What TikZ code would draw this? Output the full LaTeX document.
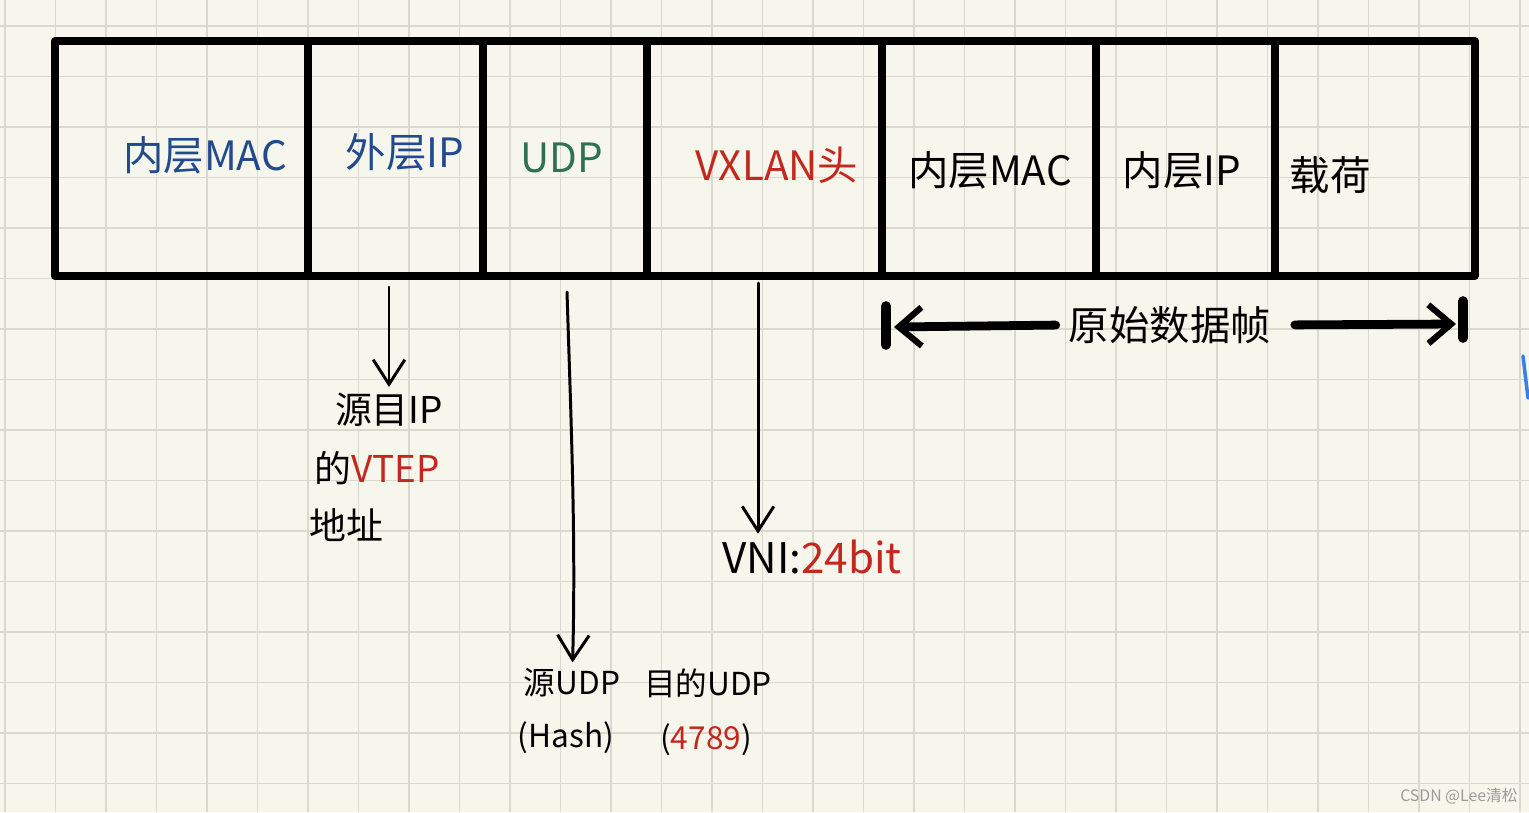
\documentclass[tikz,border=0pt]{standalone}
\usepackage{fontspec}
\setmainfont{Noto Sans CJK SC}
\usepackage{tikz}
\usetikzlibrary{arrows.meta,positioning,calc}
\usepackage{xcolor}
\definecolor{VxBlue}{HTML}{224A8E}
\definecolor{VxGreen}{HTML}{2E7251}
\definecolor{VxRed}{HTML}{C3281E}
\definecolor{VxPaper}{HTML}{F6F6EC}
\definecolor{VxGrid}{HTML}{D9D9CF}
\definecolor{VxMark}{HTML}{9A9A9A}
\definecolor{VxSky}{HTML}{3C7FE6}

\begin{document}
\begin{tikzpicture}[x=0.02cm, y=-0.02cm, font=\fontsize{23}{27}\selectfont, node distance=0pt,
    gridline/.style={VxGrid, line width=0.8pt},
    cell/.style={draw, line width=4.5pt, line join=round, outer sep=0pt, inner sep=0pt, minimum height=4.7cm},
    note/.style={font=\fontsize{21}{24}\selectfont},
    small note/.style={font=\fontsize{18}{21}\selectfont},
    thinarrow/.style={line width=1.7pt, line cap=round, -{Straight Barb[length=14pt,width=18pt]}},
    widearrow/.style={line width=5pt, line cap=round, -{Straight Barb[length=13pt,width=22pt,line width=3.5pt]}},
    endbar/.style={line width=5.5pt, line cap=round}]
  \useasboundingbox (0,0) rectangle (1529,812);
  \fill[VxPaper] (0,0) rectangle (1529,812);
  \foreach \gx in {0,...,30} \draw[gridline] ({5+50.5*\gx},0) -- ++(0,812);
  \foreach \gy in {0,...,15} \draw[gridline] (0,{26+50.5*\gy}) -- ++(1529,0);

  \node[cell,minimum width=5.06cm] (c1) at (181.5,158.5) {};
  \node[cell,right=of c1,minimum width=3.5cm] (c2) {};
  \node[cell,right=of c2,minimum width=3.28cm] (c3) {};
  \node[cell,right=of c3,minimum width=4.7cm] (c4) {};
  \node[cell,right=of c4,minimum width=4.28cm] (c5) {};
  \node[cell,right=of c5,minimum width=3.58cm] (c6) {};
  \node[cell,right=of c6,minimum width=4cm] (c7) {};

  \node[text=VxBlue] (l1) at (205,155) {内层MAC};
  \node[text=VxBlue] (l2) at (405,152) {外层IP};
  \node[text=VxGreen] (l3) at (562,158) {UDP};
  \node[text=VxRed] (l4) at (777,165) {VXLAN头};
  \node (l5) at (990,170) {内层MAC};
  \node (l6) at (1182,170) {内层IP};
  \node (l7) at (1330,175) {载荷};

  \coordinate (t2) at (389,287);
  \coordinate (t3) at (567,292);
  \coordinate (t4) at (758,283);

  \node[note] (ip1) at (389,410) {源目IP};
  \node[note] (ip2) at (377,468) {的\textcolor{VxRed}{VTEP}};
  \node[note] (ip3) at (346,525) {地址};
  \draw[thinarrow] (t2) -- (ip1);

  \node[small note] (sp1) at (572,683) {源UDP};
  \node[small note] (sp2) at (566,738) {(Hash)};
  \node[small note] (dp1) at (708,683) {目的UDP};
  \node[small note] (dp2) at (706,740) {(\textcolor{VxRed}{4789})};
  \draw[thinarrow] (t3) .. controls (571,420) and (576,540) .. (sp1);

  \node[font=\fontsize{24}{28}\selectfont] (vni) at (812,557) {VNI:\textcolor{VxRed}{24bit}};
  \draw[thinarrow] (t4) -- (t4 |- vni.north);

  \node (raw) at (1170,325) {原始数据帧};
  \coordinate (rawl) at (894,327);
  \coordinate (rawr) at (1456,324);
  \draw[widearrow, shorten <=4pt] (raw.west) -- (rawl);
  \draw[widearrow, shorten <=10pt] (raw.east) -- (rawr);
  \draw[endbar] (886,306) -- (886,345);
  \draw[endbar] (1463,301) -- (1463,338);

  \draw[VxSky, line width=2pt, line cap=round] (1523,356) -- (1528,398);
  \node[text=VxMark, font=\fontsize{9}{10}\selectfont] (mark) at (1459,796) {CSDN @Lee清松};
\end{tikzpicture}
\end{document}
